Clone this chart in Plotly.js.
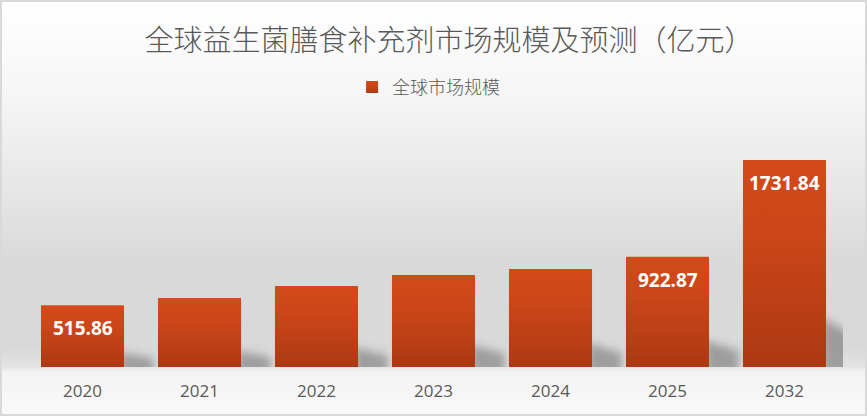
<!DOCTYPE html>
<html>
<head>
<meta charset="utf-8">
<script src="https://cdn.plot.ly/plotly-3.0.1.min.js"></script>
<style>
  html, body { margin:0; padding:0; }
  #wrap {
    width:867px; height:416px; box-sizing:border-box;
    border:2px solid #d9d9d9;
    background: linear-gradient(to bottom, #ffffff 0px, #f6f6f6 90px, #e6e6e6 190px, #d9d9d9 260px, #d9d9d9 345px, #e2e2e2 364px, #f3f3f3 370px, #fafafa 416px);
  }
  #chart { width:863px; height:412px; }
</style>
</head>
<body>
<div id="wrap"><div id="chart"></div></div>
<script>
const years = ['2020','2021','2022','2023','2024','2025','2032'];
const values = [515.86, 577, 678, 770, 820, 922.87, 1731.84];
const shownLabels = ['515.86','','','','','922.87','1731.84'];
const seriesName = '全球市场规模';
const chartTitle = '全球益生菌膳食补充剂市场规模及预测（亿元）';

const trace = {
  type:'bar', x: years, y: values, name: seriesName,
  marker:{ color:'#c9441a', line:{width:0} },
  hoverinfo:'none', showlegend:true
};

const annotations = years.map((y,i)=>({
  x:i, y:values[i], xref:'x', yref:'y', text: shownLabels[i], showarrow:false,
  yshift:-23, yanchor:'middle',
  font:{family:'Open Sans, DejaVu Sans, sans-serif', size:19, color:'#ffffff', weight:'bold'}
})).filter(a=>a.text!=='');

const layout = {
  width:863, height:412,
  paper_bgcolor:'rgba(0,0,0,0)', plot_bgcolor:'rgba(0,0,0,0)',
  margin:{l:22, r:22, t:126, b:47},
  title:{text:chartTitle, x:0.518, xanchor:'center', y:0.905, yanchor:'middle',
    font:{family:'Noto Sans CJK SC, sans-serif', size:29, color:'#595959', weight:300}},
  showlegend:true,
  legend:{orientation:'h', x:0.494, xanchor:'center', y:1.17, yanchor:'middle',
    font:{family:'Noto Sans CJK SC, sans-serif', size:18, color:'#595959', weight:300},
    bgcolor:'rgba(0,0,0,0)', itemwidth:30},
  bargap:0.29,
  xaxis:{type:'category', range:[-0.5, years.length-0.5], showgrid:false, zeroline:false, showline:false,
    ticks:'outside', ticklen:9, tickcolor:'rgba(0,0,0,0)',
    tickfont:{family:'Open Sans, sans-serif', size:17, color:'#595959'}},
  yaxis:{range:[0,2000], showgrid:false, zeroline:false, showline:false, showticklabels:false, ticks:''},
  annotations: annotations
};

Plotly.newPlot('chart', [trace], layout, {staticPlot:true, displayModeBar:false}).then(gd=>{
  const ns = 'http://www.w3.org/2000/svg';
  const svg = gd.querySelector('svg.main-svg');
  let defs = svg.querySelector('defs');
  if(!defs){ defs = document.createElementNS(ns,'defs'); svg.insertBefore(defs, svg.firstChild); }
  const g = document.createElementNS(ns,'linearGradient');
  g.setAttribute('id','barGrad'); g.setAttribute('x1','0'); g.setAttribute('y1','0');
  g.setAttribute('x2','0'); g.setAttribute('y2','1');
  [['0','#d44a19'],['0.35','#cc4619'],['1','#ac3912']].forEach(([o,c])=>{
    const s=document.createElementNS(ns,'stop'); s.setAttribute('offset',o); s.setAttribute('stop-color',c); g.appendChild(s);
  });
  defs.appendChild(g);
  const f = document.createElementNS(ns,'filter');
  f.setAttribute('id','shBlur'); f.setAttribute('x','-50%'); f.setAttribute('y','-50%');
  f.setAttribute('width','200%'); f.setAttribute('height','200%');
  const fb = document.createElementNS(ns,'feGaussianBlur'); fb.setAttribute('stdDeviation','4');
  f.appendChild(fb); defs.appendChild(f);

  const paths = gd.querySelectorAll('.bars .point path');
  paths.forEach(p=>{ p.style.fill='url(#barGrad)'; });
  gd.querySelectorAll('.legend .legendpoints path').forEach(p=>{ p.style.fill='url(#barGrad)'; });

  const barsLayer = gd.querySelector('.barlayer');
  if(barsLayer && paths.length){
    let yb = 0;
    paths.forEach(p=>{ const b=p.getBBox(); yb=Math.max(yb, b.y+b.height); });
    const cp = document.createElementNS(ns,'clipPath'); cp.setAttribute('id','shClip');
    const cr = document.createElementNS(ns,'rect');
    cr.setAttribute('x','-100'); cr.setAttribute('y','-1000'); cr.setAttribute('width','3000'); cr.setAttribute('height', String(1000+yb));
    cp.appendChild(cr); defs.appendChild(cp);
    const sg = document.createElementNS(ns,'g'); sg.setAttribute('clip-path','url(#shClip)');
    paths.forEach(p=>{
      const b=p.getBBox(); const xr=b.x+b.width; const h=b.height;
      const sh=Math.min(0.24*h, 55); const w=30;
      const poly=document.createElementNS(ns,'polygon');
      poly.setAttribute('points', `${xr-4},${yb+8} ${xr-4},${yb-sh} ${xr+w},${yb-sh*0.6} ${xr+w},${yb+8}`);
      poly.setAttribute('fill','#888888'); poly.setAttribute('opacity','0.75');
      poly.setAttribute('filter','url(#shBlur)');
      sg.appendChild(poly);
    });
    barsLayer.insertBefore(sg, barsLayer.firstChild);
  }
});
</script>
</body>
</html>
